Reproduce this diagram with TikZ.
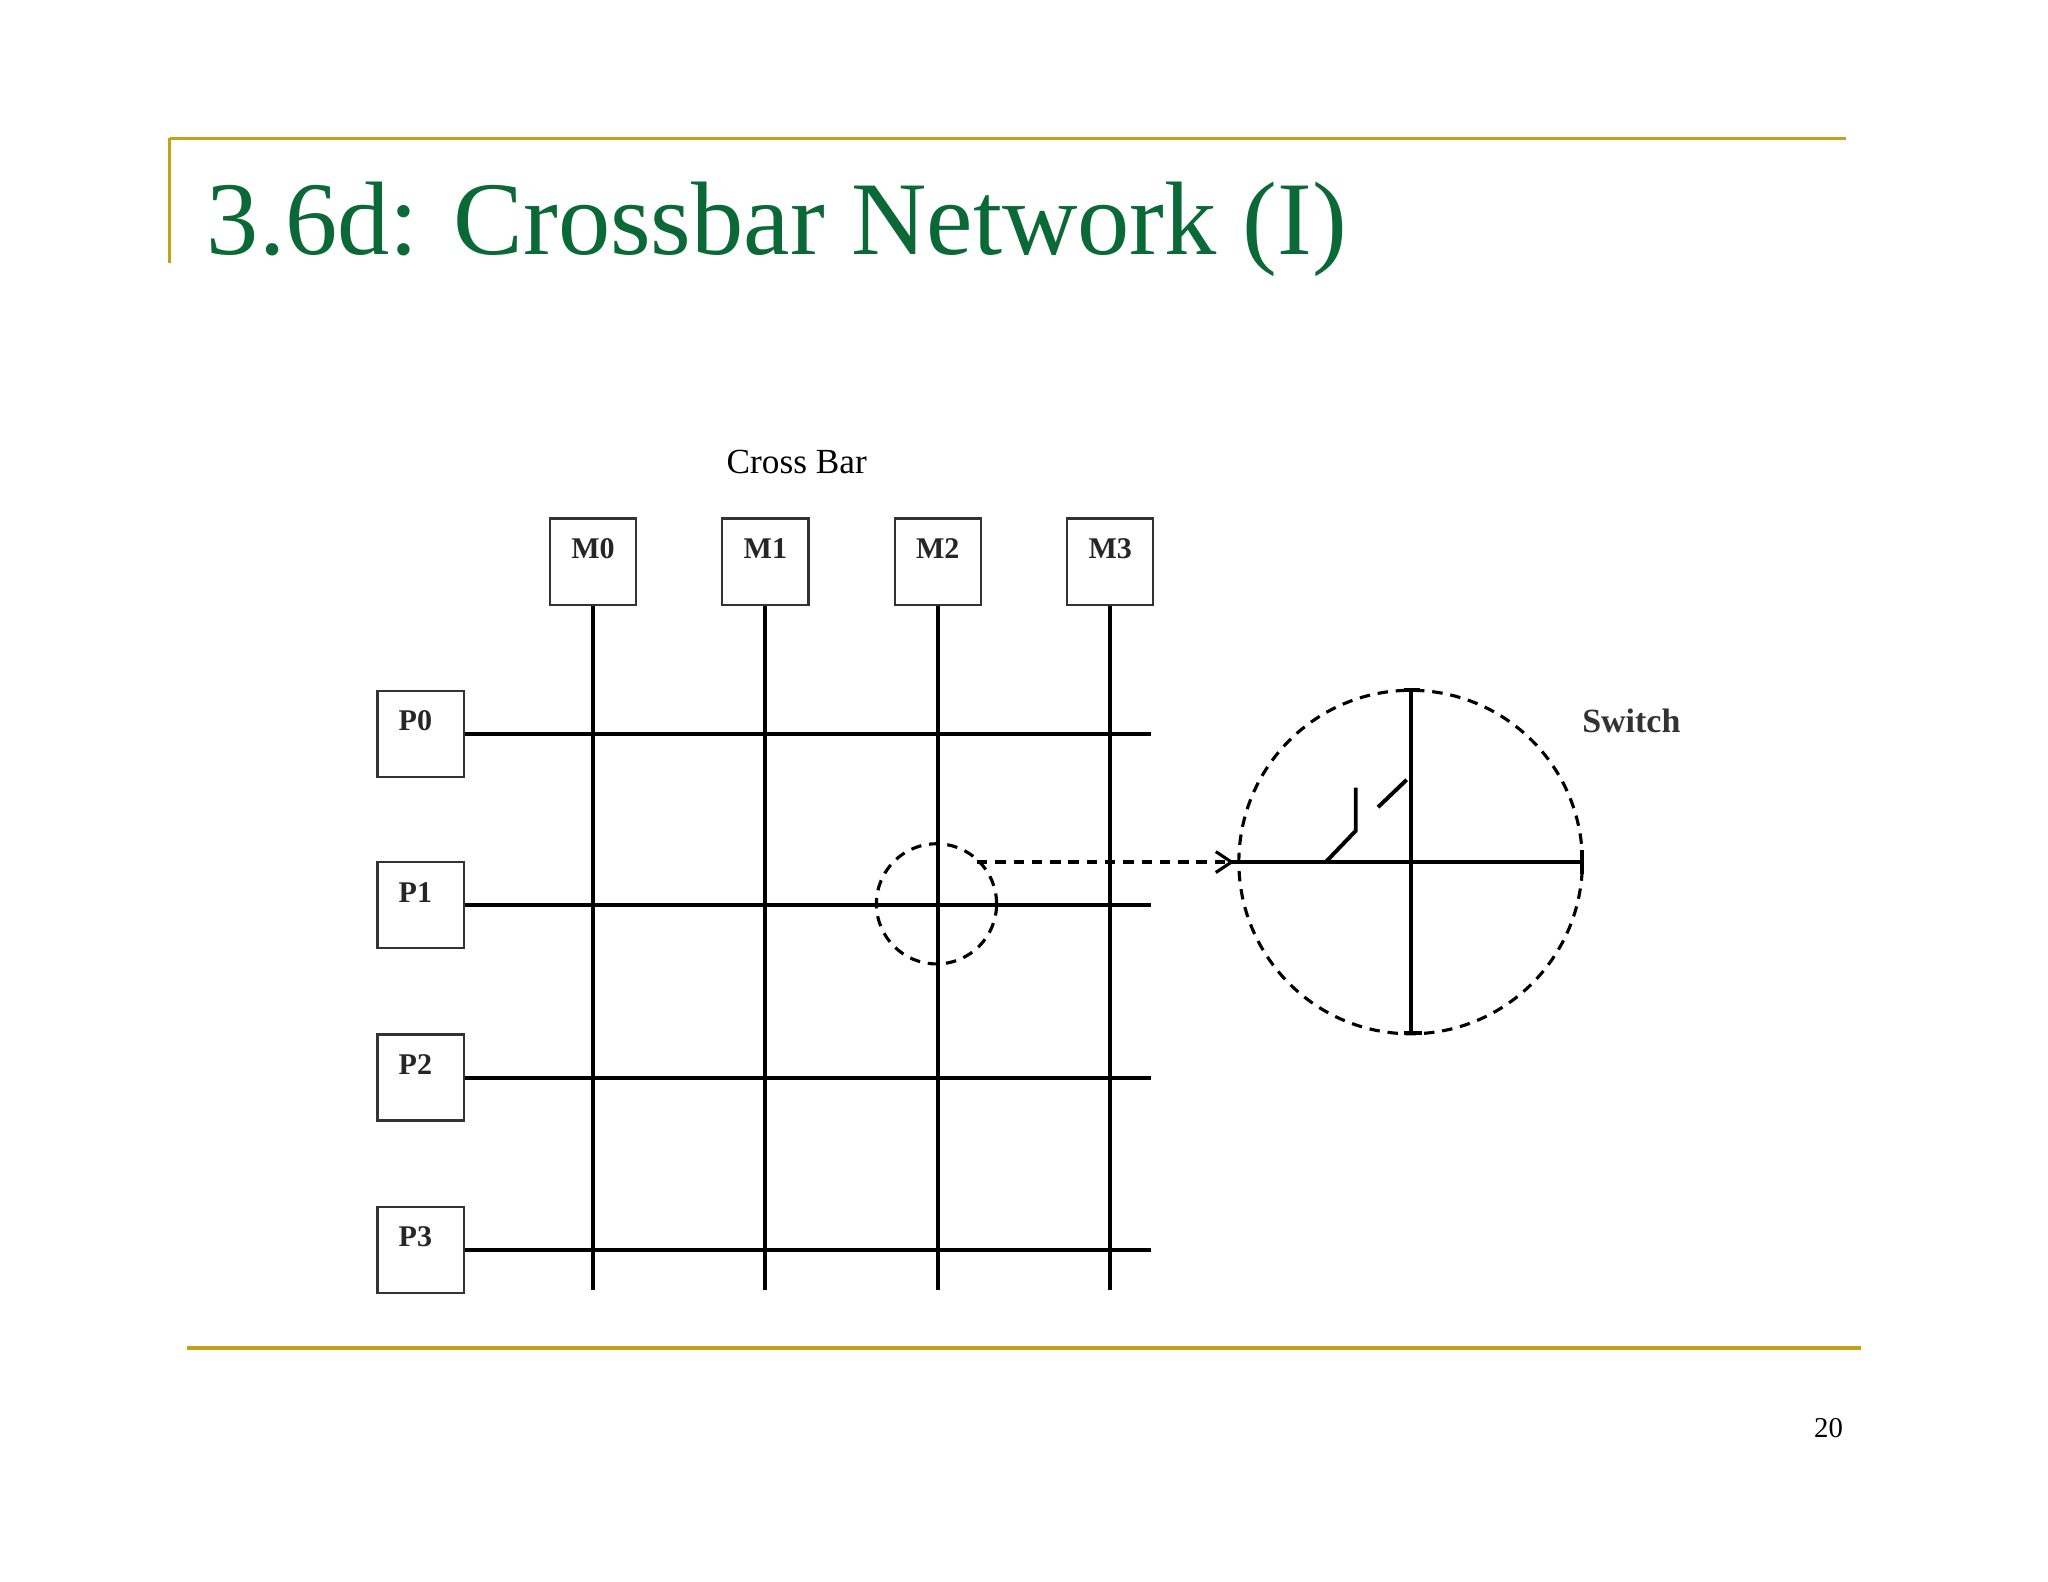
\documentclass[tikz,border=0pt]{standalone}
\usepackage{fontspec}
\setmainfont{Liberation Serif}
\usetikzlibrary{arrows.meta}
\definecolor{gold}{RGB}{200,160,20}
\definecolor{tgreen}{RGB}{10,105,55}
\begin{document}
\begin{tikzpicture}[x=0.5pt,y=-0.5pt,
  box/.style={draw=black!80,line width=0.9pt,minimum width=33pt,minimum height=33pt,inner sep=0pt,fill=white},
  lbl/.style={font=\fontsize{11.5}{13}\selectfont\bfseries,text=black!85},
  wire/.style={line width=1.5pt},
  dsh/.style={line width=1.2pt,dash pattern=on 4pt off 3pt}]
\useasboundingbox (0,0) rectangle (1568,1211);
\draw[gold,line width=1.2pt] (130,106) -- (1413,106);
\draw[gold,line width=1.2pt] (130,106) -- (130,201);
\draw[gold,line width=1.2pt] (143,1032) -- (1425,1032);
\node[anchor=base west,inner sep=0pt,text=tgreen,font=\fontsize{40}{46}\selectfont] (title) at (158,195) {3.6d: Crossbar Network (I)};
\node[font=\fontsize{11}{13}\selectfont] (pg) at (1400,1093) {20};
\node[font=\fontsize{13.5}{15}\selectfont] (cb) at (610,354) {Cross Bar};
\foreach \i/\x in {0/454,1/586,2/718,3/850}{
  \coordinate (mb\i) at (\x,988);
  \draw[wire] (\x,462) -- (mb\i);
  \node[box] (M\i) at (\x,430) {};
  \node[lbl] at (\x,420) {M\i};
}
\foreach \i/\y in {0/562,1/693,2/825,3/957}{
  \coordinate (pe\i) at (881,\y);
  \node[box] (P\i) at (322,\y) {};
  \draw[wire] (P\i.east |- 0,\y) -- (pe\i);
  \node[lbl] at (318,\y-10) {P\i};
}
\node[dsh,draw,circle,minimum size=46pt,inner sep=0pt] (sc) at (717,692) {};
\node[dsh,draw,circle,minimum size=131.5pt,inner sep=0pt] (bc) at (1080,660) {};
\coordinate (arr) at (945,660);
\draw[dsh,-{Straight Barb[length=6pt,width=8pt]}] (748,660) -- (arr);
\draw[wire] (940,660) -- (1211,660);
\draw[wire] (1211,651) -- (1211,669);
\draw[wire] (1080,528) -- (1080,791);
\draw[wire] (1075,528) -- (1087,528);
\draw[wire] (1075,791) -- (1089,791);
\draw[wire] (1015,660) -- (1038,636) -- (1038,603);
\draw[wire] (1055,618) -- (1077,597);
\node[font=\fontsize{13}{15}\selectfont\bfseries,text=black!80] (sw) at (1249,552) {Switch};
\end{tikzpicture}
\end{document}
